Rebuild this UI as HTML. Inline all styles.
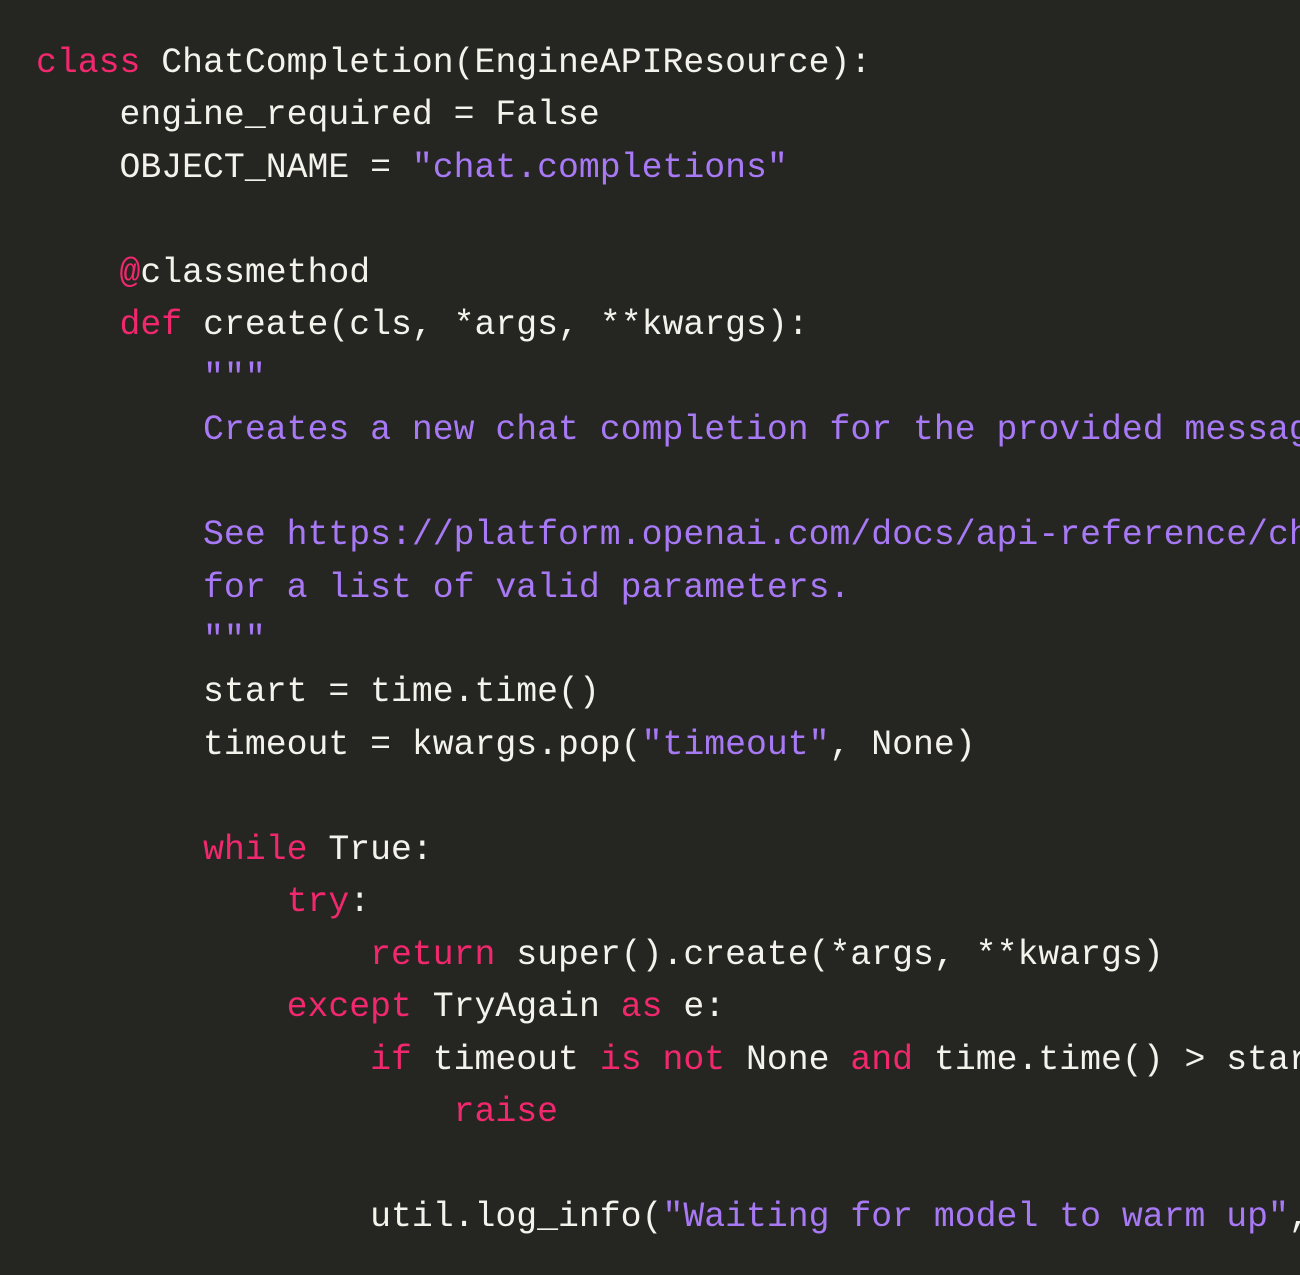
<!DOCTYPE html>
<html><head><meta charset="utf-8"><style>
html,body{margin:0;padding:0;background:#252522;width:1300px;height:1275px;overflow:hidden;position:relative}
pre{margin:0;position:absolute;left:36px;top:38px;width:1264px;overflow:hidden;font-family:"Liberation Mono","DejaVu Sans Mono",monospace;font-size:34.8px;line-height:52.45px;color:#f3f3ec;white-space:pre}
.k{color:#f2286e}.s{color:#a879f5}
</style></head><body><pre><span class="k">class</span> ChatCompletion(EngineAPIResource):
    engine_required = False
    OBJECT_NAME = <span class="s">"chat.completions"</span>

    <span class="k">@</span>classmethod
    <span class="k">def</span> create(cls, *args, **kwargs):
        <span class="s">"""</span>
<span class="s">        Creates a new chat completion for the provided messages and parameters.</span>

<span class="s">        See https://platform.openai.com/docs/api-reference/chat-completions/create</span>
<span class="s">        for a list of valid parameters.</span>
<span class="s">        """</span>
        start = time.time()
        timeout = kwargs.pop(<span class="s">"timeout"</span>, None)

        <span class="k">while</span> True:
            <span class="k">try</span>:
                <span class="k">return</span> super().create(*args, **kwargs)
            <span class="k">except</span> TryAgain <span class="k">as</span> e:
                <span class="k">if</span> timeout <span class="k">is not</span> None <span class="k">and</span> time.time() &gt; start + timeout:
                    <span class="k">raise</span>

                util.log_info(<span class="s">"Waiting for model to warm up"</span>, error=e)
</pre></body></html>
